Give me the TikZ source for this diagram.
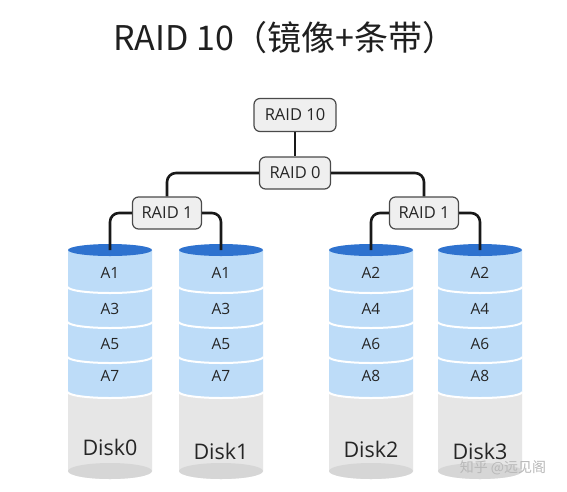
\documentclass[tikz,border=0pt]{standalone}
\usepackage{fontspec}
\setmainfont{Open Sans}
\newfontfamily\cjk{Noto Sans CJK SC}
\definecolor{topblue}{HTML}{2E72CF}
\definecolor{bandblue}{HTML}{BDDCF8}
\definecolor{bodygray}{HTML}{E6E6E6}
\definecolor{bottomgray}{HTML}{D6D6D6}
\definecolor{txt}{HTML}{262626}
\definecolor{boxfill}{HTML}{EFEFEF}
\definecolor{boxline}{HTML}{4A4A4A}
\tikzset{
  raidbox/.style={draw=boxline, fill=boxfill, line width=1.2pt, rounded corners=6pt,
    text=txt, font=\fontsize{16.5}{19}\selectfont, inner sep=0pt},
  conn/.style={draw=black!90, line width=2.6pt, rounded corners=9pt},
  cell/.style={text=txt, font=\fontsize{15.5}{18}\selectfont, inner sep=0pt},
  disklabel/.style={text=txt, font=\fontsize{21.5}{25}\selectfont, inner sep=0pt},
  sep/.style={draw=white, line width=2pt},
}
\newcommand\cylinder[8]{%
  \fill[bodygray] (#1-42,-392) -- (#1-42,-471) arc[start angle=180,end angle=360,x radius=42pt,y radius=8pt] -- (#1+42,-392) -- cycle;
  \fill[bottomgray] (#1,-471) ellipse[x radius=42pt,y radius=8pt];
  \fill[bandblue] (#1-42,-250) -- (#1-42,-392) arc[start angle=180,end angle=360,x radius=42pt,y radius=6pt] -- (#1+42,-250) -- cycle;
  \foreach \yy in {287,322,357,392}
    \draw[sep] (#1-42,-\yy) arc[start angle=180,end angle=360,x radius=42pt,y radius=6pt];
  \fill[topblue] (#1,-250) ellipse[x radius=42pt,y radius=6pt];
  \coordinate (#2top) at (#1,-250);
  \node[cell] (#2a) at (#1,-273) {#3};
  \node[cell] (#2b) at (#1,-309) {#4};
  \node[cell] (#2c) at (#1,-344) {#5};
  \node[cell] (#2d) at (#1,-376) {#6};
  \node[disklabel] (#2) at (#1,-#8) {#7};
}
\begin{document}
\begin{tikzpicture}[x=1pt,y=1pt]
\useasboundingbox (0,0) rectangle (567,-491);
\fill[white] (0,0) rectangle (567,-491);
\node[text=black!88, font=\cjk\fontsize{34}{40}\selectfont, inner sep=0pt] (title) at (285,-38) {RAID 10（镜像+条带）};

\cylinder{110}{dA}{A1}{A3}{A5}{A7}{Disk0}{447}
\cylinder{221}{dB}{A1}{A3}{A5}{A7}{Disk1}{451}
\cylinder{371}{dC}{A2}{A4}{A6}{A8}{Disk2}{449}
\cylinder{480}{dD}{A2}{A4}{A6}{A8}{Disk3}{451}

\node[raidbox, minimum width=82pt, minimum height=33pt] (r10) at (295,-115) {RAID 10};
\node[raidbox, minimum width=71pt, minimum height=32pt] (r0) at (295,-173) {RAID 0};
\node[raidbox, minimum width=69pt, minimum height=32pt] (r1l) at (167,-213) {RAID 1};
\node[raidbox, minimum width=69pt, minimum height=32pt] (r1r) at (424,-213) {RAID 1};

\draw[conn] (r10.south) -- (r0.north);
\draw[conn] (r0.west) -| (r1l.north);
\draw[conn] (r0.east) -| (r1r.north);
\draw[conn] (r1l.west) -| (dAtop);
\draw[conn] (r1l.east) -| (dBtop);
\draw[conn] (r1r.west) -| (dCtop);
\draw[conn] (r1r.east) -| (dDtop);

\node[text=black!28, font=\cjk\fontsize{14}{16}\selectfont, inner sep=0pt] (wm) at (503,-468) {知乎 @远见阁};
\end{tikzpicture}
\end{document}
